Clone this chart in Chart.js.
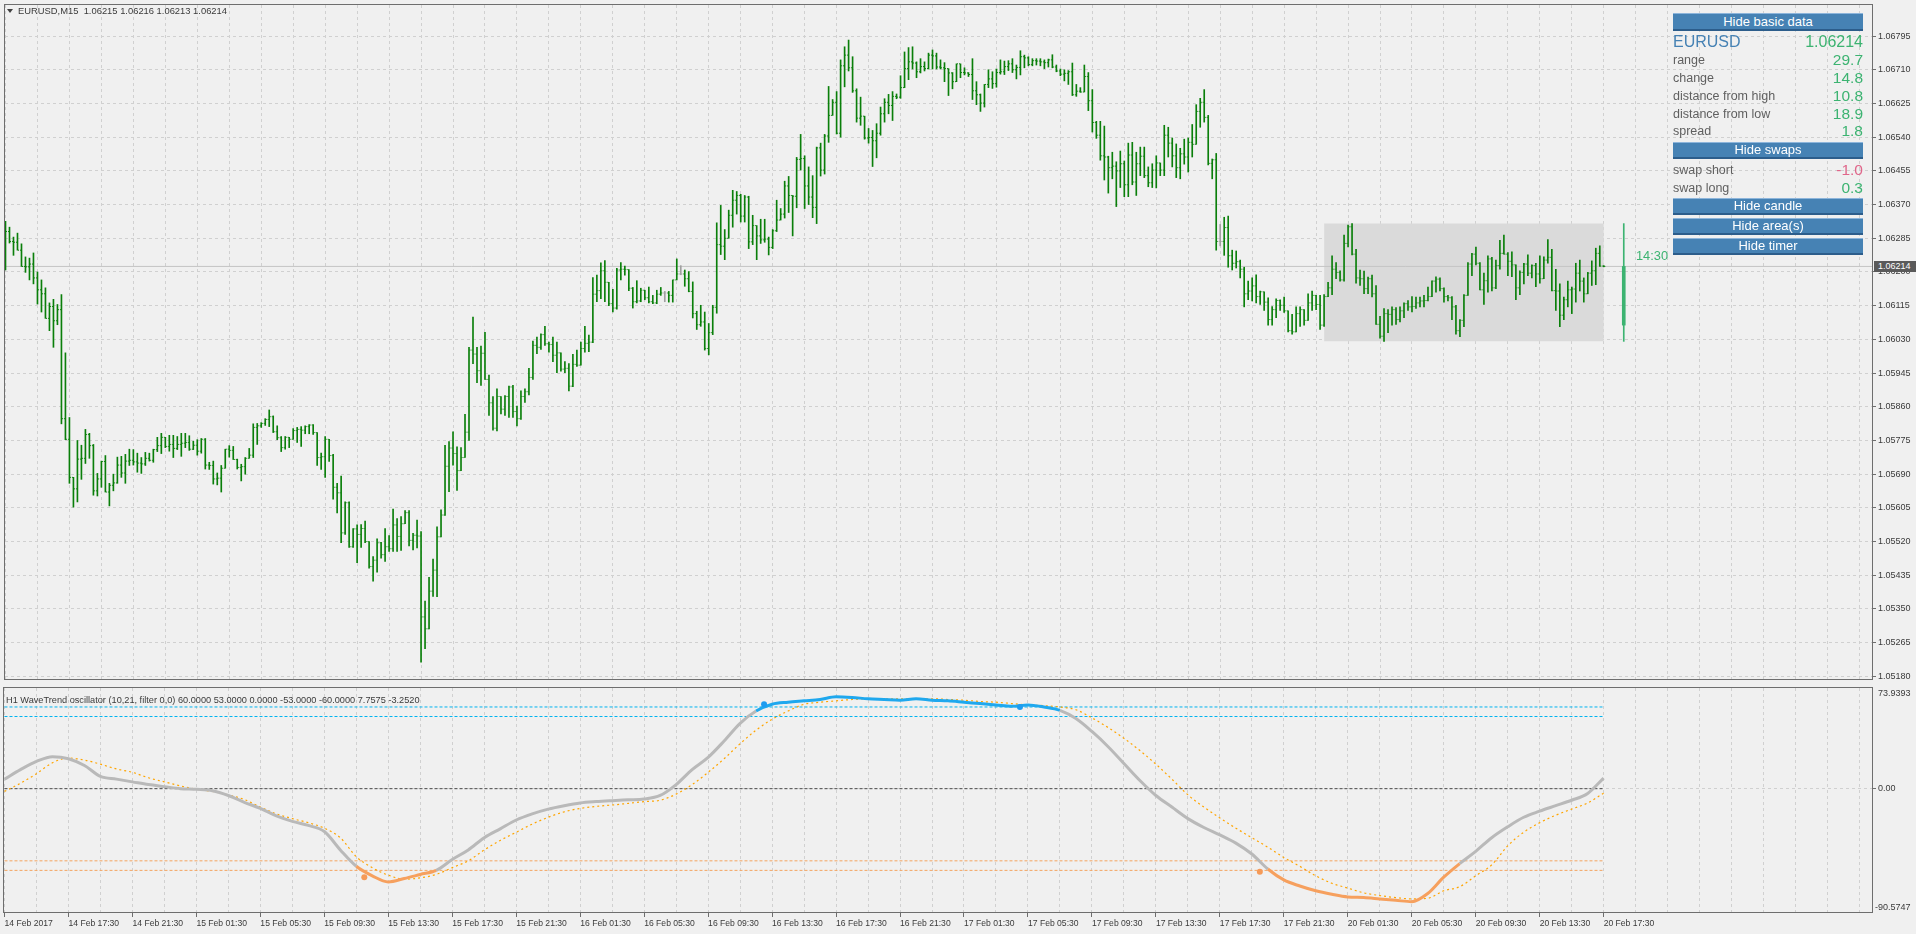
<!DOCTYPE html>
<html lang="en">
<head>
<meta charset="UTF-8" />
<title>EURUSD,M15</title>
<style>
  html, body { margin: 0; padding: 0; background: #f0f0f0; }
  body { position: relative; width: 1916px; height: 934px; overflow: hidden; font-family: 'Liberation Sans', Arial, sans-serif; }
  canvas { position: absolute; left: 0; }
  #priceChart { top: 0; }
  #oscChart { top: 684px; }
  .t { position: absolute; white-space: pre; line-height: 12px; color: #3a3a3a; font-size: 9px; }
  .tri { position: absolute; width: 0; height: 0; border-left: 3px solid transparent; border-right: 3px solid transparent; border-top: 4px solid #404040; }
  .btn { position: absolute; left: 1673px; width: 190px; box-sizing: border-box; background: #4682b4; color: #fff; font-size: 13px; text-align: center; border-top: 1px solid #8db5db; border-bottom: 2px solid #2c5d8b; }
  .row { position: absolute; left: 1673px; width: 190px; height: 18px; display: flex; justify-content: space-between; align-items: center; }
  .row span:first-child { font-size: 12.5px; color: #5f5f5f; }
  .row span:last-child { font-size: 15.5px; color: #3cb371; }
</style>
</head>
<body>
<canvas id="priceChart" width="1916" height="684"></canvas>
<canvas id="oscChart" width="1916" height="250"></canvas>

<div class="tri" style="left:7px; top:9px"></div>
<div class="t" style="left:18px; top:5px; font-size:9.4px">EURUSD,M15  1.06215 1.06216 1.06213 1.06214</div>
<div class="t" style="left:6px; top:694px; font-size:9.2px">H1 WaveTrend oscillator (10,21, filter 0,0) 60.0000 53.0000 0.0000 -53.0000 -60.0000 7.7575 -3.2520</div>
<div class="t" style="left:1874px; top:261px; width:42px; height:11px; line-height:11px; padding-left:4px; box-sizing:border-box; background:#5a5a5a; color:#fff">1.06214</div>
<div class="t" style="left:1878px; top:687px">73.9393</div>
<div class="t" style="left:1875px; top:901px">-90.5747</div>
<div class="t" style="left:1636px; top:248px; font-size:12.8px; line-height:16px; color:#3cb371">14:30</div>

<div class="btn" style="top:13px; height:18px; line-height:15px">Hide basic data</div>
<div class="row" style="top:33px"><span style="font-size:16px; color:#4682b4">EURUSD</span><span style="font-size:16px">1.06214</span></div>
<div class="row" style="top:51px"><span>range</span><span>29.7</span></div>
<div class="row" style="top:69px"><span>change</span><span>14.8</span></div>
<div class="row" style="top:87px"><span>distance from high</span><span>10.8</span></div>
<div class="row" style="top:105px"><span>distance from low</span><span>18.9</span></div>
<div class="row" style="top:122px"><span>spread</span><span>1.8</span></div>
<div class="btn" style="top:142px; height:17px; line-height:14px">Hide swaps</div>
<div class="row" style="top:161px"><span>swap short</span><span style="color:#e0668a">-1.0</span></div>
<div class="row" style="top:179px"><span>swap long</span><span>0.3</span></div>
<div class="btn" style="top:198px; height:17px; line-height:14px">Hide candle</div>
<div class="btn" style="top:218px; height:17px; line-height:14px">Hide area(s)</div>
<div class="btn" style="top:238px; height:17px; line-height:14px">Hide timer</div>

<script src="https://cdn.jsdelivr.net/npm/chart.js"></script>
<script>
  // M15 bars, prices in points above 1.00000 (6214 -> 1.06214)
  const open = [
    6310,6302,6277,6275,6255,6214,6213,6220,6185,6155, 6145,6083,6113,6077,6105,5830,5778,5682,5653,5728,
    5730,5790,5762,5648,5678,5722,5645,5662,5668,5713, 5693,5723,5725,5721,5718,5716,5730,5725,5752,5762,
    5783,5760,5765,5755,5765,5768,5770,5753,5763,5748, 5778,5713,5712,5678,5680,5705,5753,5750,5727,5707,
    5709,5730,5738,5808,5812,5818,5828,5835,5797,5782, 5757,5783,5778,5800,5803,5801,5810,5814,5795,5732,
    5734,5778,5737,5657,5643,5542,5618,5507,5552,5538, 5553,5520,5457,5473,5517,5487,5507,5502,5562,5533,
    5565,5593,5523,5536,5534,5330,5300,5395,5448,5532, 5587,5710,5756,5742,5699,5732,5796,6003,5993,5951,
    5995,5929,5870,5806,5886,5854,5886,5910,5848,5830, 5886,5898,5934,6015,6010,6042,6019,6017,5990,5996,
    5955,5957,5912,5967,5965,6007,6020,6023,6144,6153, 6203,6174,6120,6109,6205,6207,6206,6159,6125,6127,
    6154,6135,6125,6122,6144,6147,6147,6141,6180,6195, 6195,6183,6151,6095,6067,6074,6007,6047,6111,6269,
    6265,6285,6343,6381,6393,6341,6389,6276,6317,6291, 6281,6283,6262,6304,6331,6346,6417,6393,6391,6484,
    6486,6417,6389,6363,6513,6457,6543,6595,6628,6550, 6720,6747,6715,6657,6588,6593,6538,6539,6531,6550,
    6599,6628,6620,6643,6641,6665,6713,6730,6727,6705, 6718,6713,6747,6745,6717,6715,6713,6702,6680,6725,
    6703,6702,6698,6657,6647,6626,6673,6687,6675,6703, 6705,6718,6725,6710,6716,6743,6740,6723,6733,6732,
    6730,6728,6735,6717,6707,6699,6701,6705,6647,6656, 6654,6693,6632,6577,6545,6493,6490,6463,6467,6455,
    6473,6420,6495,6427,6473,6492,6443,6425,6457,6475, 6457,6545,6525,6493,6463,6498,6490,6527,6522,6605,
    6628,6590,6474,6483,6277,6277,6312,6241,6222,6226, 6207,6145,6152,6165,6138,6150,6124,6080,6105,6128,
    6116,6102,6052,6049,6095,6105,6078,6122,6141,6118, 6066,6138,6160,6207,6199,6180,6272,6314,6245,6185,
    6183,6158,6183,6145,6068,6038,6095,6093,6105,6080, 6102,6120,6112,6113,6122,6127,6128,6138,6177,6182,
    6158,6138,6135,6112,6052,6078,6141,6220,6245,6222, 6155,6178,6233,6160,6216,6247,6245,6227,6218,6160,
    6199,6220,6197,6216,6195,6183,6230,6237,6153,6152, 6091,6130,6155,6157,6197,6177,6145,6197,6203,6247,
    6215
  ];
  const high = [
    6328,6313,6288,6298,6271,6238,6235,6248,6200,6180, 6160,6122,6131,6118,6143,5996,5833,5682,5775,5763,
    5803,5793,5765,5692,5723,5737,5667,5690,5733,5735, 5740,5753,5752,5743,5732,5745,5743,5753,5783,5793,
    5783,5788,5788,5785,5793,5793,5787,5773,5777,5780, 5780,5720,5723,5693,5712,5753,5762,5760,5728,5715,
    5732,5755,5817,5818,5820,5830,5852,5837,5812,5785, 5785,5783,5805,5808,5810,5812,5815,5815,5795,5743,
    5785,5778,5740,5667,5685,5620,5620,5553,5562,5563, 5572,5520,5482,5527,5518,5553,5535,5602,5578,5583,
    5598,5598,5541,5574,5545,5370,5430,5476,5557,5600, 5763,5772,5797,5759,5757,5841,6010,6086,6010,6013,
    6048,5940,5886,5905,5886,5888,5912,5914,5862,5900, 5905,5957,6026,6036,6044,6063,6023,6036,6023,5996,
    5974,5969,5992,6003,6023,6063,6041,6186,6192,6223, 6229,6174,6156,6209,6224,6215,6206,6161,6178,6159,
    6154,6162,6141,6154,6161,6151,6151,6180,6233,6216, 6205,6201,6175,6101,6116,6099,6070,6116,6324,6368,
    6307,6356,6406,6403,6396,6393,6391,6343,6317,6333, 6333,6288,6307,6381,6360,6429,6441,6393,6489,6547,
    6493,6465,6443,6515,6525,6547,6668,6635,6655,6735, 6768,6785,6743,6662,6641,6593,6562,6557,6574,6616,
    6637,6648,6655,6649,6695,6755,6766,6768,6730,6738, 6730,6752,6760,6752,6735,6728,6713,6703,6725,6725,
    6715,6703,6738,6680,6649,6673,6710,6705,6712,6735, 6732,6733,6738,6722,6758,6747,6743,6738,6738,6738,
    6735,6737,6748,6722,6712,6710,6708,6727,6673,6665, 6722,6703,6660,6580,6580,6568,6492,6502,6478,6505,
    6480,6525,6527,6502,6515,6515,6465,6473,6493,6475, 6570,6565,6538,6523,6512,6535,6538,6572,6622,6638,
    6660,6595,6485,6499,6320,6338,6341,6255,6253,6230, 6212,6177,6185,6193,6152,6150,6135,6113,6132,6130,
    6137,6102,6093,6112,6112,6105,6145,6152,6141,6141, 6143,6174,6241,6224,6203,6293,6318,6322,6257,6205,
    6202,6187,6192,6166,6088,6108,6105,6112,6110,6112, 6122,6128,6138,6137,6137,6141,6162,6178,6188,6185,
    6160,6141,6138,6116,6080,6143,6224,6247,6263,6224, 6197,6241,6237,6230,6280,6293,6249,6251,6218,6203,
    6222,6243,6218,6222,6241,6238,6282,6257,6207,6170, 6137,6177,6162,6222,6230,6185,6199,6228,6260,6266,
    6216
  ];
  const low = [
    6205,6273,6242,6255,6214,6199,6180,6170,6119,6099, 6083,6052,6010,6067,5817,5777,5667,5607,5620,5677,
    5717,5730,5637,5635,5657,5645,5610,5648,5667,5682, 5667,5712,5713,5695,5692,5712,5723,5720,5747,5742,
    5757,5748,5732,5752,5735,5757,5750,5752,5738,5743, 5703,5702,5665,5663,5645,5705,5733,5727,5703,5673,
    5690,5730,5732,5765,5808,5813,5810,5795,5777,5747, 5753,5757,5778,5770,5760,5792,5792,5790,5712,5702,
    5682,5722,5627,5592,5517,5538,5505,5505,5467,5505, 5517,5453,5420,5443,5478,5470,5495,5495,5495,5498,
    5565,5509,5499,5504,5216,5250,5300,5382,5381,5532, 5586,5646,5713,5649,5699,5732,5775,5969,5921,5914,
    5929,5838,5801,5799,5842,5838,5833,5833,5812,5828, 5871,5890,5929,5994,6005,6015,5998,5974,5946,5950,
    5946,5900,5911,5962,5965,5998,5999,6022,6125,6133, 6125,6115,6099,6106,6180,6192,6153,6109,6122,6125,
    6130,6122,6120,6120,6141,6125,6124,6124,6180,6193, 6164,6150,6084,6055,6063,6003,5991,6042,6096,6244,
    6231,6285,6313,6346,6326,6326,6259,6269,6231,6272, 6275,6243,6259,6302,6331,6336,6350,6291,6362,6457,
    6360,6370,6337,6322,6442,6447,6527,6595,6548,6540, 6667,6707,6653,6578,6570,6535,6525,6466,6488,6545,
    6578,6599,6582,6637,6638,6665,6685,6712,6690,6702, 6707,6712,6712,6712,6712,6680,6645,6662,6680,6690,
    6697,6693,6635,6622,6605,6616,6665,6663,6666,6699, 6698,6708,6703,6687,6697,6715,6720,6720,6722,6720,
    6713,6717,6715,6705,6695,6682,6673,6645,6643,6653, 6654,6607,6553,6537,6482,6432,6399,6435,6365,6413,
    6390,6390,6420,6393,6443,6438,6415,6413,6412,6443, 6443,6490,6465,6438,6435,6472,6452,6490,6522,6565,
    6578,6470,6435,6255,6266,6242,6212,6205,6210,6185, 6112,6130,6127,6122,6118,6103,6066,6066,6085,6103,
    6098,6049,6043,6049,6063,6066,6078,6103,6105,6055, 6063,6138,6143,6183,6177,6177,6263,6243,6172,6166,
    6145,6145,6137,6068,6033,6025,6047,6066,6068,6074, 6085,6103,6099,6108,6112,6112,6127,6138,6149,6152,
    6124,6127,6080,6043,6037,6062,6141,6191,6218,6155, 6118,6149,6152,6158,6207,6245,6191,6188,6130,6143,
    6170,6191,6185,6163,6172,6183,6222,6152,6103,6062, 6080,6112,6095,6124,6152,6124,6145,6166,6168,6214,
    6213
  ];
  const close = [
    6302,6277,6275,6255,6214,6213,6220,6185,6155,6145, 6083,6113,6077,6105,5830,5778,5682,5653,5728,5730,
    5790,5762,5648,5678,5722,5645,5662,5668,5713,5693, 5723,5725,5721,5718,5716,5730,5725,5752,5762,5783,
    5760,5765,5755,5765,5768,5770,5753,5763,5748,5778, 5713,5712,5678,5680,5705,5753,5750,5727,5707,5709,
    5730,5738,5808,5812,5818,5828,5835,5797,5782,5757, 5783,5778,5800,5803,5801,5810,5814,5795,5732,5734,
    5778,5737,5657,5643,5542,5618,5507,5552,5538,5553, 5520,5457,5473,5517,5487,5507,5502,5562,5533,5565,
    5593,5523,5536,5534,5330,5300,5395,5448,5532,5587, 5710,5756,5742,5699,5732,5796,6003,5993,5951,5995,
    5929,5870,5806,5886,5854,5886,5910,5848,5830,5886, 5898,5934,6015,6010,6042,6019,6017,5990,5996,5955,
    5957,5912,5967,5965,6007,6020,6023,6144,6153,6203, 6174,6120,6109,6205,6207,6206,6159,6125,6127,6154,
    6135,6125,6122,6144,6147,6147,6141,6180,6195,6195, 6183,6151,6095,6067,6074,6007,6047,6111,6269,6265,
    6285,6343,6381,6393,6341,6389,6276,6317,6291,6281, 6283,6262,6304,6331,6346,6417,6393,6391,6484,6486,
    6417,6389,6363,6513,6457,6543,6595,6628,6550,6720, 6747,6715,6657,6588,6593,6538,6539,6531,6550,6599,
    6628,6620,6643,6641,6665,6713,6730,6727,6705,6718, 6713,6747,6745,6717,6715,6713,6702,6680,6725,6703,
    6702,6698,6657,6647,6626,6673,6687,6675,6703,6705, 6718,6725,6710,6716,6743,6740,6723,6733,6732,6730,
    6728,6735,6717,6707,6699,6701,6705,6647,6656,6654, 6693,6632,6577,6545,6493,6490,6463,6467,6455,6473,
    6420,6495,6427,6473,6492,6443,6425,6457,6475,6457, 6545,6525,6493,6463,6498,6490,6527,6522,6605,6628,
    6590,6474,6483,6277,6277,6312,6241,6222,6226,6207, 6145,6152,6165,6138,6150,6124,6080,6105,6128,6116,
    6102,6052,6049,6095,6105,6078,6122,6141,6118,6066, 6138,6160,6207,6199,6180,6272,6314,6245,6185,6183,
    6158,6183,6145,6068,6038,6095,6093,6105,6080,6102, 6120,6112,6113,6122,6127,6128,6138,6177,6182,6158,
    6138,6135,6112,6052,6078,6141,6220,6245,6222,6155, 6178,6233,6160,6216,6247,6245,6227,6218,6160,6199,
    6220,6197,6216,6195,6183,6230,6237,6153,6152,6091, 6130,6155,6157,6197,6177,6145,6197,6203,6247,6215,
    6214
  ];
  const dayBar = [6066, 6322, 6025, 6214];   // today: open, high, low, close
  const bid = 6214;
  const todayFirstBar = 330;

  const priceTicks = [1.05180, 1.05265, 1.05350, 1.05435, 1.05520, 1.05605, 1.05690, 1.05775, 1.05860, 1.05945,
                      1.06030, 1.06115, 1.06200, 1.06285, 1.06370, 1.06455, 1.06540, 1.06625, 1.06710, 1.06795];
  const timeLabels = ['14 Feb 2017', '14 Feb 17:30', '14 Feb 21:30', '15 Feb 01:30', '15 Feb 05:30', '15 Feb 09:30',
    '15 Feb 13:30', '15 Feb 17:30', '15 Feb 21:30', '16 Feb 01:30', '16 Feb 05:30', '16 Feb 09:30', '16 Feb 13:30',
    '16 Feb 17:30', '16 Feb 21:30', '17 Feb 01:30', '17 Feb 05:30', '17 Feb 09:30', '17 Feb 13:30', '17 Feb 17:30',
    '17 Feb 21:30', '20 Feb 01:30', '20 Feb 05:30', '20 Feb 09:30', '20 Feb 13:30', '20 Feb 17:30'];

  // H1 WaveTrend, one value per hour (every 4th M15 bar)
  const wt1 = [
    7, 14, 20, 23.5, 22, 17, 9, 7, 5, 3,
    1.5, 0, -0.5, -1.5, -5, -10, -14.5, -20, -24, -27,
    -31.5, -45, -57, -64, -68.5, -66, -63, -60, -52, -45,
    -36, -29.5, -23, -18.5, -15, -12.5, -10.5, -9.5, -8.8, -8.2,
    -7.6, -5, 3, 14, 23, 35, 48, 57, 62, 63.5,
    64.5, 65.5, 67.5, 67, 66, 65.5, 65, 66, 65, 64.5,
    63.5, 62.5, 61.5, 60.5, 61.5, 60, 57.5, 51.5, 42, 31,
    18.5, 6, -5, -13.5, -22, -28.5, -34, -40, -48, -59,
    -67, -71.5, -75, -77.5, -79.5, -80, -81, -82, -83, -77,
    -65, -55, -46, -36, -28, -21, -16.5, -12.5, -8.5, -3.5,
    7.7575
  ];
  const wt2 = [
    -2, 4, 11, 19, 22.5, 21, 18, 14.5, 12, 8,
    5, 2, -0.4, -2, -4.5, -8, -13.5, -18.5, -22, -25,
    -29, -36, -50, -58, -63.5, -66.5, -65.5, -63, -58, -53,
    -45, -38, -32, -26, -21, -17, -14.5, -13, -12, -10.8,
    -9.5, -8.5, -4, 3, 12, 22, 33, 43, 51, 57,
    62, 63.5, 64.5, 65.5, 66, 66, 66, 66, 66, 65.5,
    65, 64, 63.5, 62.5, 61.5, 61, 60, 58, 52, 45,
    37, 28, 18, 7, -4.5, -13.5, -21.5, -29, -36, -43,
    -50.5, -57, -64, -69.5, -73, -76.5, -78.5, -80, -81, -80.5,
    -75, -72, -64, -56, -42, -32, -25, -19.5, -15, -10.5,
    -3.252
  ];
  const levels = [60, 53, 0, -53, -60];
  const oscRange = [-90.5747, 73.9393];
  const signalsUp = [[190, 62], [254, 60]];
  const signalsDown = [[90, -65], [314, -61]];

  const pt = v => 1 + v / 100000;
  const X_MIN = -0.125, X_MAX = 467.125;
  const lastBar = close.length - 1;
  const candleX = lastBar + 5;
  const gridBars = [];
  for (let b = 0; b <= 464; b += 8) gridBars.push(b);
  const isLabelTick = v => v % 16 === 0 && v <= lastBar;

  Chart.defaults.font.family = "'Liberation Sans', Arial, sans-serif";
  const green = '#0a7f0a', dojiCol = '#a0a0a0', gridCol = '#d0d0d0', frameCol = '#6e6e6e', labelCol = '#3a3a3a';
  const barCols = close.map((c, i) => open[i] === c ? dojiCol : green);

  const frame = {
    id: 'frame',
    afterDraw(chart) {
      const { ctx, chartArea: a } = chart;
      ctx.save();
      ctx.strokeStyle = frameCol;
      ctx.lineWidth = 1;
      ctx.strokeRect(a.left - 0.5, a.top - 0.5, a.right - a.left + 1, a.bottom - a.top + 1);
      ctx.restore();
    }
  };
  const flat = s => { s.paddingLeft = 0; s.paddingRight = 0; s.paddingTop = 0; s.paddingBottom = 0; };
  const none = 'rgba(0,0,0,0)';

  new Chart(document.getElementById('priceChart'), {
    type: 'bar',
    data: {
      datasets: [
        { type: 'line', data: [{ x: todayFirstBar, y: pt(dayBar[1]) }, { x: lastBar, y: pt(dayBar[1]) }],
          borderColor: none, borderWidth: 0, pointRadius: 0, fill: '+1', backgroundColor: '#dadada', order: 10 },
        { type: 'line', data: [{ x: todayFirstBar, y: pt(dayBar[2]) }, { x: lastBar, y: pt(dayBar[2]) }],
          borderColor: none, borderWidth: 0, pointRadius: 0, fill: false, order: 10 },
        { type: 'line', data: [{ x: X_MIN, y: pt(bid) }, { x: X_MAX, y: pt(bid) }],
          borderColor: '#c4c4c4', borderWidth: 1, pointRadius: 0, order: 9 },
        { type: 'bar', data: high.map((h, i) => ({ x: i, y: [pt(low[i]), pt(h)] })),
          backgroundColor: barCols, barThickness: 1, grouped: false, order: 3 },
        { type: 'line', showLine: false, data: open.map((o, i) => ({ x: i - 0.25, y: pt(o) })),
          pointStyle: 'line', pointRadius: 0.5, pointBorderWidth: 1, pointBorderColor: barCols, order: 2 },
        { type: 'line', showLine: false, data: close.map((c, i) => ({ x: i + 0.25, y: pt(c) })),
          pointStyle: 'line', pointRadius: 0.5, pointBorderWidth: 1, pointBorderColor: barCols, order: 2 },
        { type: 'bar', data: [{ x: candleX, y: [pt(dayBar[2]), pt(dayBar[1])] }],
          backgroundColor: '#3cb371', barThickness: 1, grouped: false, order: 1 },
        { type: 'bar', data: [{ x: candleX, y: [pt(dayBar[0]), pt(dayBar[3])] }],
          backgroundColor: '#3cb371', barThickness: 3, grouped: false, order: 1 }
      ]
    },
    options: {
      responsive: false, animation: false, events: [],
      layout: { padding: { left: 3, top: 3, right: 0, bottom: 2 } },
      plugins: { legend: { display: false }, tooltip: { enabled: false } },
      scales: {
        x: {
          type: 'linear', min: X_MIN, max: X_MAX, offset: false,
          grid: { color: gridCol, drawTicks: false, offset: false },
          border: { display: false, dash: [3, 3] },
          ticks: { display: false },
          afterBuildTicks: s => { s.ticks = gridBars.map(v => ({ value: v })); },
          afterFit: s => { s.height = 0; flat(s); }
        },
        y: {
          type: 'linear', position: 'right', min: 1.051734, max: 1.068734,
          grid: { color: gridCol, tickColor: frameCol, tickLength: 4, tickBorderDash: [] },
          border: { display: false, dash: [3, 3] },
          ticks: { color: labelCol, font: { size: 9 }, padding: 2, callback: v => v.toFixed(5) },
          afterBuildTicks: s => { s.ticks = priceTicks.map(v => ({ value: v })); },
          afterFit: s => { s.width = 44; flat(s); }
        }
      }
    },
    plugins: [frame]
  });

  const blue = '#1fa8ee', orange = '#f6a05e', grey = '#b9b9b9';
  const levelCols = ['#00b4f0', '#00b4f0', '#4a4a4a', '#f4a460', '#f4a460'];
  const hourly = arr => arr.map((v, k) => ({ x: k * 4, y: v }));

  new Chart(document.getElementById('oscChart'), {
    type: 'line',
    data: {
      datasets: [
        ...levels.map((lv, j) => ({
          data: [{ x: 0, y: lv }, { x: lastBar, y: lv }], borderColor: levelCols[j], borderWidth: 1,
          borderDash: [3, 2], pointRadius: 0, order: 5
        })),
        { data: hourly(wt2), borderColor: '#ffa500', borderWidth: 1.2, borderDash: [2, 3], pointRadius: 0,
          cubicInterpolationMode: 'monotone', order: 4 },
        { data: hourly(wt1), borderColor: grey, borderWidth: 3, pointRadius: 0, cubicInterpolationMode: 'monotone',
          borderJoinStyle: 'round', order: 3,
          segment: {
            borderColor: c => {
              const a = c.p0.parsed.y, b = c.p1.parsed.y;
              if (a >= 53 && b >= 53) return blue;
              if (a <= -53 && b <= -53) return orange;
              return grey;
            }
          } },
        { data: signalsUp.map(([x, y]) => ({ x, y })), showLine: false, pointRadius: 3, pointBorderWidth: 0,
          pointBackgroundColor: '#1e9cf0', order: 1 },
        { data: signalsDown.map(([x, y]) => ({ x, y })), showLine: false, pointRadius: 3, pointBorderWidth: 0,
          pointBackgroundColor: '#f59a58', order: 1 }
      ]
    },
    options: {
      responsive: false, animation: false, events: [],
      layout: { padding: { left: 3, top: 2, right: 0, bottom: 0 } },
      plugins: { legend: { display: false }, tooltip: { enabled: false } },
      scales: {
        x: {
          type: 'linear', min: X_MIN, max: X_MAX, offset: false,
          grid: { color: gridCol, tickLength: 5, tickBorderDash: [],
                  tickColor: c => (c.tick && isLabelTick(c.tick.value)) ? frameCol : none },
          border: { display: false, dash: [3, 3] },
          ticks: { autoSkip: false, maxRotation: 0, minRotation: 0, align: 'start', padding: 1,
                   color: labelCol, font: { size: 8.6 },
                   callback: v => isLabelTick(v) ? timeLabels[v / 16] : '' },
          afterBuildTicks: s => { s.ticks = gridBars.map(v => ({ value: v })); },
          afterFit: s => { s.height = 22; flat(s); }
        },
        y: {
          type: 'linear', position: 'right', min: oscRange[0], max: oscRange[1],
          grid: { color: gridCol, tickColor: frameCol, tickLength: 4, tickBorderDash: [] },
          border: { display: false, dash: [3, 3] },
          ticks: { color: labelCol, font: { size: 9 }, padding: 2, callback: v => v.toFixed(2) },
          afterBuildTicks: s => { s.ticks = [{ value: 0 }]; },
          afterFit: s => { s.width = 44; flat(s); }
        }
      }
    },
    plugins: [frame]
  });
</script>
</body>
</html>
